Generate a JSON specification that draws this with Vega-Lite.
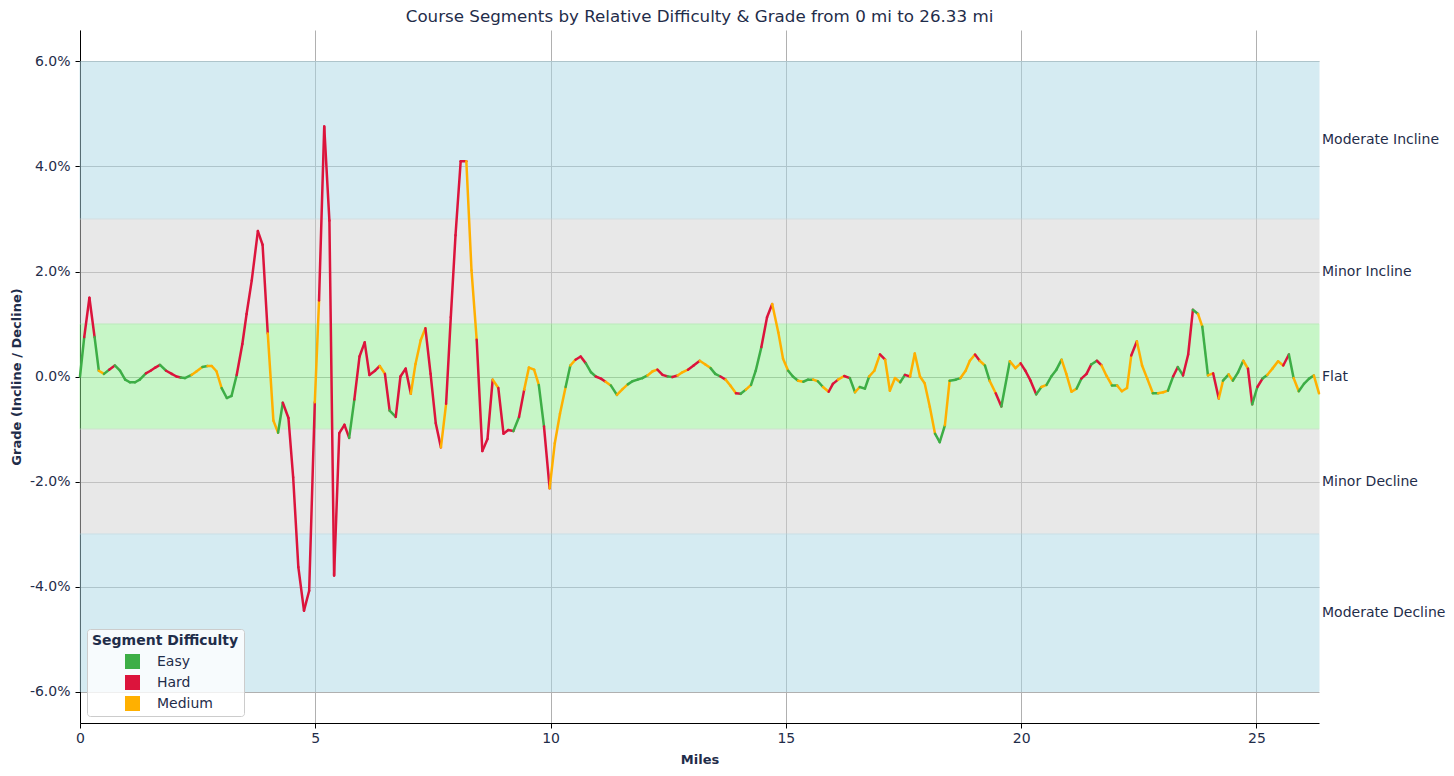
{
  "$schema": "https://vega.github.io/schema/vega-lite/v6.json",
  "width": 1239,
  "height": 693,
  "autosize": {"type": "none"},
  "padding": {"left": 80, "top": 30, "right": 135, "bottom": 53},
  "background": "white",
  "title": {"text": "Course Segments by Relative Difficulty & Grade from 0 mi to 26.33 mi", "fontSize": 16.7, "fontWeight": "normal", "color": "#1f2d4a", "font": "DejaVu Sans", "anchor": "middle", "offset": 4},
  "config": {"view": {"stroke": null}, "font": "DejaVu Sans"},
  "resolve": {"scale": {"stroke": "independent"}},
  "datasets": {
    "segments": [
        {"m":0,"g":0,"m2":0.09,"g2":0.75,"d":"Easy"},
        {"m":0.09,"g":0.75,"m2":0.2,"g2":1.5,"d":"Hard"},
        {"m":0.2,"g":1.5,"m2":0.31,"g2":0.75,"d":"Hard"},
        {"m":0.31,"g":0.75,"m2":0.4,"g2":0.11,"d":"Easy"},
        {"m":0.4,"g":0.11,"m2":0.51,"g2":0.05,"d":"Medium"},
        {"m":0.51,"g":0.05,"m2":0.62,"g2":0.13,"d":"Easy"},
        {"m":0.62,"g":0.13,"m2":0.74,"g2":0.21,"d":"Hard"},
        {"m":0.74,"g":0.21,"m2":0.85,"g2":0.11,"d":"Easy"},
        {"m":0.85,"g":0.11,"m2":0.96,"g2":-0.06,"d":"Easy"},
        {"m":0.96,"g":-0.06,"m2":1.06,"g2":-0.11,"d":"Easy"},
        {"m":1.06,"g":-0.11,"m2":1.17,"g2":-0.11,"d":"Easy"},
        {"m":1.17,"g":-0.11,"m2":1.27,"g2":-0.06,"d":"Easy"},
        {"m":1.27,"g":-0.06,"m2":1.4,"g2":0.06,"d":"Easy"},
        {"m":1.4,"g":0.06,"m2":1.5,"g2":0.11,"d":"Hard"},
        {"m":1.5,"g":0.11,"m2":1.6,"g2":0.17,"d":"Hard"},
        {"m":1.6,"g":0.17,"m2":1.7,"g2":0.22,"d":"Hard"},
        {"m":1.7,"g":0.22,"m2":1.83,"g2":0.11,"d":"Easy"},
        {"m":1.83,"g":0.11,"m2":1.95,"g2":0.05,"d":"Hard"},
        {"m":1.95,"g":0.05,"m2":2.05,"g2":0,"d":"Hard"},
        {"m":2.05,"g":0,"m2":2.14,"g2":-0.02,"d":"Hard"},
        {"m":2.14,"g":-0.02,"m2":2.23,"g2":-0.03,"d":"Easy"},
        {"m":2.23,"g":-0.03,"m2":2.37,"g2":0.03,"d":"Easy"},
        {"m":2.37,"g":0.03,"m2":2.48,"g2":0.1,"d":"Medium"},
        {"m":2.48,"g":0.1,"m2":2.6,"g2":0.18,"d":"Medium"},
        {"m":2.6,"g":0.18,"m2":2.71,"g2":0.2,"d":"Easy"},
        {"m":2.71,"g":0.2,"m2":2.8,"g2":0.2,"d":"Medium"},
        {"m":2.8,"g":0.2,"m2":2.9,"g2":0.1,"d":"Medium"},
        {"m":2.9,"g":0.1,"m2":3.01,"g2":-0.22,"d":"Medium"},
        {"m":3.01,"g":-0.22,"m2":3.12,"g2":-0.41,"d":"Easy"},
        {"m":3.12,"g":-0.41,"m2":3.22,"g2":-0.37,"d":"Easy"},
        {"m":3.22,"g":-0.37,"m2":3.33,"g2":0.03,"d":"Easy"},
        {"m":3.33,"g":0.03,"m2":3.45,"g2":0.62,"d":"Hard"},
        {"m":3.45,"g":0.62,"m2":3.54,"g2":1.19,"d":"Hard"},
        {"m":3.54,"g":1.19,"m2":3.65,"g2":1.83,"d":"Hard"},
        {"m":3.65,"g":1.83,"m2":3.78,"g2":2.77,"d":"Hard"},
        {"m":3.78,"g":2.77,"m2":3.88,"g2":2.51,"d":"Hard"},
        {"m":3.88,"g":2.51,"m2":3.99,"g2":0.82,"d":"Hard"},
        {"m":3.99,"g":0.82,"m2":4.11,"g2":-0.84,"d":"Medium"},
        {"m":4.11,"g":-0.84,"m2":4.21,"g2":-1.07,"d":"Medium"},
        {"m":4.21,"g":-1.07,"m2":4.31,"g2":-0.5,"d":"Easy"},
        {"m":4.31,"g":-0.5,"m2":4.43,"g2":-0.79,"d":"Hard"},
        {"m":4.43,"g":-0.79,"m2":4.53,"g2":-1.92,"d":"Hard"},
        {"m":4.53,"g":-1.92,"m2":4.64,"g2":-3.63,"d":"Hard"},
        {"m":4.64,"g":-3.63,"m2":4.76,"g2":-4.46,"d":"Hard"},
        {"m":4.76,"g":-4.46,"m2":4.87,"g2":-4.08,"d":"Hard"},
        {"m":4.87,"g":-4.08,"m2":4.99,"g2":-0.49,"d":"Hard"},
        {"m":4.99,"g":-0.49,"m2":5.08,"g2":1.45,"d":"Medium"},
        {"m":5.08,"g":1.45,"m2":5.19,"g2":4.76,"d":"Hard"},
        {"m":5.19,"g":4.76,"m2":5.3,"g2":2.97,"d":"Hard"},
        {"m":5.3,"g":2.97,"m2":5.4,"g2":-3.79,"d":"Hard"},
        {"m":5.4,"g":-3.79,"m2":5.51,"g2":-1.08,"d":"Hard"},
        {"m":5.51,"g":-1.08,"m2":5.62,"g2":-0.92,"d":"Hard"},
        {"m":5.62,"g":-0.92,"m2":5.72,"g2":-1.17,"d":"Hard"},
        {"m":5.72,"g":-1.17,"m2":5.83,"g2":-0.44,"d":"Easy"},
        {"m":5.83,"g":-0.44,"m2":5.94,"g2":0.38,"d":"Hard"},
        {"m":5.94,"g":0.38,"m2":6.05,"g2":0.65,"d":"Hard"},
        {"m":6.05,"g":0.65,"m2":6.15,"g2":0.03,"d":"Hard"},
        {"m":6.15,"g":0.03,"m2":6.27,"g2":0.11,"d":"Hard"},
        {"m":6.27,"g":0.11,"m2":6.37,"g2":0.2,"d":"Hard"},
        {"m":6.37,"g":0.2,"m2":6.48,"g2":0.05,"d":"Medium"},
        {"m":6.48,"g":0.05,"m2":6.58,"g2":-0.65,"d":"Hard"},
        {"m":6.58,"g":-0.65,"m2":6.71,"g2":-0.77,"d":"Easy"},
        {"m":6.71,"g":-0.77,"m2":6.81,"g2":0,"d":"Hard"},
        {"m":6.81,"g":0,"m2":6.92,"g2":0.15,"d":"Hard"},
        {"m":6.92,"g":0.15,"m2":7.03,"g2":-0.33,"d":"Hard"},
        {"m":7.03,"g":-0.33,"m2":7.13,"g2":0.24,"d":"Medium"},
        {"m":7.13,"g":0.24,"m2":7.24,"g2":0.69,"d":"Medium"},
        {"m":7.24,"g":0.69,"m2":7.34,"g2":0.92,"d":"Medium"},
        {"m":7.34,"g":0.92,"m2":7.45,"g2":0.05,"d":"Hard"},
        {"m":7.45,"g":0.05,"m2":7.56,"g2":-0.89,"d":"Hard"},
        {"m":7.56,"g":-0.89,"m2":7.67,"g2":-1.35,"d":"Hard"},
        {"m":7.67,"g":-1.35,"m2":7.78,"g2":-0.52,"d":"Medium"},
        {"m":7.78,"g":-0.52,"m2":7.88,"g2":1.13,"d":"Hard"},
        {"m":7.88,"g":1.13,"m2":7.98,"g2":2.69,"d":"Hard"},
        {"m":7.98,"g":2.69,"m2":8.09,"g2":4.1,"d":"Hard"},
        {"m":8.09,"g":4.1,"m2":8.21,"g2":4.1,"d":"Hard"},
        {"m":8.21,"g":4.1,"m2":8.32,"g2":2.02,"d":"Medium"},
        {"m":8.32,"g":2.02,"m2":8.43,"g2":0.7,"d":"Medium"},
        {"m":8.43,"g":0.7,"m2":8.55,"g2":-1.42,"d":"Hard"},
        {"m":8.55,"g":-1.42,"m2":8.66,"g2":-1.19,"d":"Hard"},
        {"m":8.66,"g":-1.19,"m2":8.77,"g2":-0.06,"d":"Hard"},
        {"m":8.77,"g":-0.06,"m2":8.89,"g2":-0.22,"d":"Medium"},
        {"m":8.89,"g":-0.22,"m2":9,"g2":-1.09,"d":"Hard"},
        {"m":9,"g":-1.09,"m2":9.1,"g2":-1.02,"d":"Hard"},
        {"m":9.1,"g":-1.02,"m2":9.21,"g2":-1.04,"d":"Hard"},
        {"m":9.21,"g":-1.04,"m2":9.33,"g2":-0.77,"d":"Easy"},
        {"m":9.33,"g":-0.77,"m2":9.44,"g2":-0.25,"d":"Hard"},
        {"m":9.44,"g":-0.25,"m2":9.54,"g2":0.17,"d":"Medium"},
        {"m":9.54,"g":0.17,"m2":9.65,"g2":0.13,"d":"Medium"},
        {"m":9.65,"g":0.13,"m2":9.75,"g2":-0.16,"d":"Medium"},
        {"m":9.75,"g":-0.16,"m2":9.86,"g2":-0.95,"d":"Easy"},
        {"m":9.86,"g":-0.95,"m2":9.98,"g2":-2.13,"d":"Hard"},
        {"m":9.98,"g":-2.13,"m2":10.09,"g2":-1.27,"d":"Medium"},
        {"m":10.09,"g":-1.27,"m2":10.2,"g2":-0.71,"d":"Medium"},
        {"m":10.2,"g":-0.71,"m2":10.32,"g2":-0.2,"d":"Medium"},
        {"m":10.32,"g":-0.2,"m2":10.42,"g2":0.21,"d":"Easy"},
        {"m":10.42,"g":0.21,"m2":10.53,"g2":0.32,"d":"Medium"},
        {"m":10.53,"g":0.32,"m2":10.64,"g2":0.38,"d":"Hard"},
        {"m":10.64,"g":0.38,"m2":10.75,"g2":0.25,"d":"Hard"},
        {"m":10.75,"g":0.25,"m2":10.86,"g2":0.08,"d":"Easy"},
        {"m":10.86,"g":0.08,"m2":10.96,"g2":0,"d":"Easy"},
        {"m":10.96,"g":0,"m2":11.07,"g2":-0.04,"d":"Hard"},
        {"m":11.07,"g":-0.04,"m2":11.17,"g2":-0.1,"d":"Hard"},
        {"m":11.17,"g":-0.1,"m2":11.28,"g2":-0.17,"d":"Medium"},
        {"m":11.28,"g":-0.17,"m2":11.41,"g2":-0.35,"d":"Easy"},
        {"m":11.41,"g":-0.35,"m2":11.53,"g2":-0.24,"d":"Medium"},
        {"m":11.53,"g":-0.24,"m2":11.64,"g2":-0.15,"d":"Medium"},
        {"m":11.64,"g":-0.15,"m2":11.74,"g2":-0.09,"d":"Easy"},
        {"m":11.74,"g":-0.09,"m2":11.85,"g2":-0.06,"d":"Easy"},
        {"m":11.85,"g":-0.06,"m2":11.95,"g2":-0.03,"d":"Easy"},
        {"m":11.95,"g":-0.03,"m2":12.06,"g2":0.02,"d":"Easy"},
        {"m":12.06,"g":0.02,"m2":12.17,"g2":0.1,"d":"Medium"},
        {"m":12.17,"g":0.1,"m2":12.27,"g2":0.13,"d":"Medium"},
        {"m":12.27,"g":0.13,"m2":12.38,"g2":0.03,"d":"Hard"},
        {"m":12.38,"g":0.03,"m2":12.49,"g2":0,"d":"Hard"},
        {"m":12.49,"g":0,"m2":12.59,"g2":-0.01,"d":"Easy"},
        {"m":12.59,"g":-0.01,"m2":12.7,"g2":0.02,"d":"Hard"},
        {"m":12.7,"g":0.02,"m2":12.8,"g2":0.08,"d":"Medium"},
        {"m":12.8,"g":0.08,"m2":12.92,"g2":0.13,"d":"Medium"},
        {"m":12.92,"g":0.13,"m2":13.04,"g2":0.21,"d":"Hard"},
        {"m":13.04,"g":0.21,"m2":13.17,"g2":0.3,"d":"Hard"},
        {"m":13.17,"g":0.3,"m2":13.29,"g2":0.23,"d":"Medium"},
        {"m":13.29,"g":0.23,"m2":13.4,"g2":0.16,"d":"Medium"},
        {"m":13.4,"g":0.16,"m2":13.5,"g2":0.05,"d":"Easy"},
        {"m":13.5,"g":0.05,"m2":13.61,"g2":0,"d":"Easy"},
        {"m":13.61,"g":0,"m2":13.72,"g2":-0.06,"d":"Hard"},
        {"m":13.72,"g":-0.06,"m2":13.82,"g2":-0.17,"d":"Medium"},
        {"m":13.82,"g":-0.17,"m2":13.94,"g2":-0.32,"d":"Medium"},
        {"m":13.94,"g":-0.32,"m2":14.04,"g2":-0.33,"d":"Hard"},
        {"m":14.04,"g":-0.33,"m2":14.15,"g2":-0.25,"d":"Easy"},
        {"m":14.15,"g":-0.25,"m2":14.26,"g2":-0.16,"d":"Medium"},
        {"m":14.26,"g":-0.16,"m2":14.36,"g2":0.11,"d":"Easy"},
        {"m":14.36,"g":0.11,"m2":14.48,"g2":0.56,"d":"Easy"},
        {"m":14.48,"g":0.56,"m2":14.6,"g2":1.13,"d":"Hard"},
        {"m":14.6,"g":1.13,"m2":14.71,"g2":1.38,"d":"Hard"},
        {"m":14.71,"g":1.38,"m2":14.84,"g2":0.84,"d":"Medium"},
        {"m":14.84,"g":0.84,"m2":14.94,"g2":0.34,"d":"Medium"},
        {"m":14.94,"g":0.34,"m2":15.05,"g2":0.11,"d":"Medium"},
        {"m":15.05,"g":0.11,"m2":15.15,"g2":0,"d":"Easy"},
        {"m":15.15,"g":0,"m2":15.26,"g2":-0.08,"d":"Easy"},
        {"m":15.26,"g":-0.08,"m2":15.37,"g2":-0.1,"d":"Medium"},
        {"m":15.37,"g":-0.1,"m2":15.47,"g2":-0.06,"d":"Easy"},
        {"m":15.47,"g":-0.06,"m2":15.58,"g2":-0.06,"d":"Easy"},
        {"m":15.58,"g":-0.06,"m2":15.68,"g2":-0.09,"d":"Medium"},
        {"m":15.68,"g":-0.09,"m2":15.79,"g2":-0.2,"d":"Easy"},
        {"m":15.79,"g":-0.2,"m2":15.91,"g2":-0.29,"d":"Medium"},
        {"m":15.91,"g":-0.29,"m2":16,"g2":-0.14,"d":"Hard"},
        {"m":16,"g":-0.14,"m2":16.11,"g2":-0.06,"d":"Hard"},
        {"m":16.11,"g":-0.06,"m2":16.24,"g2":0.01,"d":"Medium"},
        {"m":16.24,"g":0.01,"m2":16.36,"g2":-0.03,"d":"Hard"},
        {"m":16.36,"g":-0.03,"m2":16.47,"g2":-0.3,"d":"Easy"},
        {"m":16.47,"g":-0.3,"m2":16.57,"g2":-0.2,"d":"Medium"},
        {"m":16.57,"g":-0.2,"m2":16.68,"g2":-0.23,"d":"Easy"},
        {"m":16.68,"g":-0.23,"m2":16.77,"g2":0,"d":"Easy"},
        {"m":16.77,"g":0,"m2":16.88,"g2":0.11,"d":"Medium"},
        {"m":16.88,"g":0.11,"m2":17,"g2":0.42,"d":"Medium"},
        {"m":17,"g":0.42,"m2":17.11,"g2":0.32,"d":"Hard"},
        {"m":17.11,"g":0.32,"m2":17.21,"g2":-0.27,"d":"Medium"},
        {"m":17.21,"g":-0.27,"m2":17.32,"g2":-0.03,"d":"Medium"},
        {"m":17.32,"g":-0.03,"m2":17.43,"g2":-0.11,"d":"Medium"},
        {"m":17.43,"g":-0.11,"m2":17.53,"g2":0.03,"d":"Easy"},
        {"m":17.53,"g":0.03,"m2":17.64,"g2":0,"d":"Hard"},
        {"m":17.64,"g":0,"m2":17.74,"g2":0.44,"d":"Medium"},
        {"m":17.74,"g":0.44,"m2":17.85,"g2":0,"d":"Medium"},
        {"m":17.85,"g":0,"m2":17.95,"g2":-0.13,"d":"Medium"},
        {"m":17.95,"g":-0.13,"m2":18.06,"g2":-0.58,"d":"Medium"},
        {"m":18.06,"g":-0.58,"m2":18.17,"g2":-1.09,"d":"Medium"},
        {"m":18.17,"g":-1.09,"m2":18.27,"g2":-1.25,"d":"Easy"},
        {"m":18.27,"g":-1.25,"m2":18.38,"g2":-0.93,"d":"Easy"},
        {"m":18.38,"g":-0.93,"m2":18.48,"g2":-0.08,"d":"Medium"},
        {"m":18.48,"g":-0.08,"m2":18.61,"g2":-0.06,"d":"Easy"},
        {"m":18.61,"g":-0.06,"m2":18.71,"g2":-0.03,"d":"Easy"},
        {"m":18.71,"g":-0.03,"m2":18.82,"g2":0.11,"d":"Medium"},
        {"m":18.82,"g":0.11,"m2":18.91,"g2":0.3,"d":"Medium"},
        {"m":18.91,"g":0.3,"m2":19.02,"g2":0.42,"d":"Medium"},
        {"m":19.02,"g":0.42,"m2":19.12,"g2":0.3,"d":"Hard"},
        {"m":19.12,"g":0.3,"m2":19.23,"g2":0.21,"d":"Medium"},
        {"m":19.23,"g":0.21,"m2":19.33,"g2":-0.08,"d":"Easy"},
        {"m":19.33,"g":-0.08,"m2":19.46,"g2":-0.32,"d":"Medium"},
        {"m":19.46,"g":-0.32,"m2":19.58,"g2":-0.57,"d":"Hard"},
        {"m":19.58,"g":-0.57,"m2":19.76,"g2":0.29,"d":"Easy"},
        {"m":19.76,"g":0.29,"m2":19.88,"g2":0.16,"d":"Medium"},
        {"m":19.88,"g":0.16,"m2":19.99,"g2":0.25,"d":"Medium"},
        {"m":19.99,"g":0.25,"m2":20.09,"g2":0.11,"d":"Hard"},
        {"m":20.09,"g":0.11,"m2":20.2,"g2":-0.08,"d":"Hard"},
        {"m":20.2,"g":-0.08,"m2":20.32,"g2":-0.34,"d":"Hard"},
        {"m":20.32,"g":-0.34,"m2":20.43,"g2":-0.2,"d":"Easy"},
        {"m":20.43,"g":-0.2,"m2":20.54,"g2":-0.16,"d":"Medium"},
        {"m":20.54,"g":-0.16,"m2":20.64,"g2":0,"d":"Easy"},
        {"m":20.64,"g":0,"m2":20.75,"g2":0.13,"d":"Easy"},
        {"m":20.75,"g":0.13,"m2":20.86,"g2":0.32,"d":"Easy"},
        {"m":20.86,"g":0.32,"m2":20.96,"g2":0.05,"d":"Medium"},
        {"m":20.96,"g":0.05,"m2":21.07,"g2":-0.29,"d":"Medium"},
        {"m":21.07,"g":-0.29,"m2":21.18,"g2":-0.23,"d":"Medium"},
        {"m":21.18,"g":-0.23,"m2":21.28,"g2":-0.04,"d":"Easy"},
        {"m":21.28,"g":-0.04,"m2":21.39,"g2":0.05,"d":"Hard"},
        {"m":21.39,"g":0.05,"m2":21.49,"g2":0.23,"d":"Hard"},
        {"m":21.49,"g":0.23,"m2":21.61,"g2":0.3,"d":"Easy"},
        {"m":21.61,"g":0.3,"m2":21.71,"g2":0.21,"d":"Hard"},
        {"m":21.71,"g":0.21,"m2":21.81,"g2":0.02,"d":"Medium"},
        {"m":21.81,"g":0.02,"m2":21.93,"g2":-0.17,"d":"Medium"},
        {"m":21.93,"g":-0.17,"m2":22.04,"g2":-0.17,"d":"Easy"},
        {"m":22.04,"g":-0.17,"m2":22.14,"g2":-0.28,"d":"Medium"},
        {"m":22.14,"g":-0.28,"m2":22.25,"g2":-0.22,"d":"Medium"},
        {"m":22.25,"g":-0.22,"m2":22.34,"g2":0.4,"d":"Medium"},
        {"m":22.34,"g":0.4,"m2":22.46,"g2":0.67,"d":"Hard"},
        {"m":22.46,"g":0.67,"m2":22.57,"g2":0.21,"d":"Medium"},
        {"m":22.57,"g":0.21,"m2":22.68,"g2":-0.04,"d":"Medium"},
        {"m":22.68,"g":-0.04,"m2":22.8,"g2":-0.32,"d":"Medium"},
        {"m":22.8,"g":-0.32,"m2":22.91,"g2":-0.32,"d":"Easy"},
        {"m":22.91,"g":-0.32,"m2":23.02,"g2":-0.3,"d":"Medium"},
        {"m":23.02,"g":-0.3,"m2":23.12,"g2":-0.27,"d":"Medium"},
        {"m":23.12,"g":-0.27,"m2":23.23,"g2":0,"d":"Easy"},
        {"m":23.23,"g":0,"m2":23.33,"g2":0.18,"d":"Hard"},
        {"m":23.33,"g":0.18,"m2":23.44,"g2":0.02,"d":"Easy"},
        {"m":23.44,"g":0.02,"m2":23.55,"g2":0.42,"d":"Hard"},
        {"m":23.55,"g":0.42,"m2":23.65,"g2":1.27,"d":"Hard"},
        {"m":23.65,"g":1.27,"m2":23.76,"g2":1.19,"d":"Easy"},
        {"m":23.76,"g":1.19,"m2":23.85,"g2":0.95,"d":"Medium"},
        {"m":23.85,"g":0.95,"m2":23.97,"g2":0.02,"d":"Easy"},
        {"m":23.97,"g":0.02,"m2":24.08,"g2":0.06,"d":"Medium"},
        {"m":24.08,"g":0.06,"m2":24.2,"g2":-0.42,"d":"Hard"},
        {"m":24.2,"g":-0.42,"m2":24.29,"g2":-0.08,"d":"Medium"},
        {"m":24.29,"g":-0.08,"m2":24.41,"g2":0.04,"d":"Easy"},
        {"m":24.41,"g":0.04,"m2":24.5,"g2":-0.08,"d":"Medium"},
        {"m":24.5,"g":-0.08,"m2":24.61,"g2":0.08,"d":"Easy"},
        {"m":24.61,"g":0.08,"m2":24.72,"g2":0.3,"d":"Easy"},
        {"m":24.72,"g":0.3,"m2":24.82,"g2":0.15,"d":"Medium"},
        {"m":24.82,"g":0.15,"m2":24.91,"g2":-0.53,"d":"Hard"},
        {"m":24.91,"g":-0.53,"m2":25.02,"g2":-0.2,"d":"Easy"},
        {"m":25.02,"g":-0.2,"m2":25.13,"g2":-0.04,"d":"Hard"},
        {"m":25.13,"g":-0.04,"m2":25.23,"g2":0.03,"d":"Easy"},
        {"m":25.23,"g":0.03,"m2":25.34,"g2":0.15,"d":"Medium"},
        {"m":25.34,"g":0.15,"m2":25.46,"g2":0.29,"d":"Medium"},
        {"m":25.46,"g":0.29,"m2":25.57,"g2":0.21,"d":"Medium"},
        {"m":25.57,"g":0.21,"m2":25.69,"g2":0.42,"d":"Hard"},
        {"m":25.69,"g":0.42,"m2":25.79,"g2":-0.03,"d":"Easy"},
        {"m":25.79,"g":-0.03,"m2":25.9,"g2":-0.28,"d":"Medium"},
        {"m":25.9,"g":-0.28,"m2":26.01,"g2":-0.14,"d":"Easy"},
        {"m":26.01,"g":-0.14,"m2":26.12,"g2":-0.04,"d":"Easy"},
        {"m":26.12,"g":-0.04,"m2":26.22,"g2":0.02,"d":"Easy"},
        {"m":26.22,"g":0.02,"m2":26.33,"g2":-0.32,"d":"Medium"}
    ]
  },
  "layer": [
    {
      "data": {"values": [
        {"band": "Moderate Incline", "kind": "Moderate", "lo": 3, "hi": 6, "mid": 4.5},
        {"band": "Minor Incline", "kind": "Minor", "lo": 1, "hi": 3, "mid": 2},
        {"band": "Flat", "kind": "Flat", "lo": -1, "hi": 1, "mid": 0},
        {"band": "Minor Decline", "kind": "Minor", "lo": -3, "hi": -1, "mid": -2},
        {"band": "Moderate Decline", "kind": "Moderate", "lo": -6, "hi": -3, "mid": -4.5}
      ]},
      "layer": [
        {
          "mark": {"type": "rect", "opacity": 0.5, "strokeWidth": 1},
          "encoding": {
            "x": {"datum": 0, "type": "quantitative", "title": "Miles", "scale": {"domain": [0, 26.33], "nice": false, "zero": false},
              "axis": {"title": "Miles", "values": [0, 5, 10, 15, 20, 25], "format": "d", "grid": true, "gridColor": "#b0b0b0", "gridWidth": 1, "domainColor": "#000000", "tickColor": "#000000", "tickSize": 5, "labelFontSize": 14, "labelColor": "#1f2d4a", "labelPadding": 3, "labelFlush": false, "titleFontSize": 13, "titleFontWeight": "bold", "titleColor": "#1f2d4a", "titlePadding": 8}},
            "x2": {"datum": 26.33},
            "y": {"field": "lo", "type": "quantitative", "title": "Grade (Incline / Decline)", "scale": {"domain": [-6.6, 6.6], "nice": false, "zero": false},
              "axis": {"title": "Grade (Incline / Decline)", "values": [-6, -4, -2, 0, 2, 4, 6], "labelExpr": "replace(format(datum.value, '.1f'), '\u2212', '-') + '%'", "grid": true, "gridColor": "#b0b0b0", "gridWidth": 1, "domainColor": "#000000", "tickColor": "#000000", "tickSize": 5, "labelFontSize": 14, "labelColor": "#1f2d4a", "labelPadding": 5, "titleFontSize": 13, "titleFontWeight": "bold", "titleColor": "#1f2d4a", "titlePadding": 6}},
            "y2": {"field": "hi"},
            "fill": {"field": "kind", "type": "nominal", "scale": {"domain": ["Moderate", "Minor", "Flat"], "range": ["#ADD8E6", "#D3D3D3", "#90EE90"]}, "legend": null},
            "stroke": {"field": "kind", "type": "nominal", "scale": {"domain": ["Moderate", "Minor", "Flat"], "range": ["#ADD8E6", "#D3D3D3", "#90EE90"]}, "legend": null}
          }
        },
        {
          "mark": {"type": "text", "align": "left", "baseline": "middle", "dx": 3, "fontSize": 14, "color": "#1f2d4a"},
          "encoding": {
            "x": {"datum": 26.33, "type": "quantitative", "title": "Miles"},
            "y": {"field": "mid", "type": "quantitative", "title": "Grade (Incline / Decline)"},
            "text": {"field": "band"}
          }
        }
      ]
    },
    {
      "data": {"name": "segments"},
      "mark": {"type": "rule", "strokeWidth": 2.5, "strokeCap": "round"},
      "encoding": {
        "x": {"field": "m", "type": "quantitative", "title": "Miles"},
        "x2": {"field": "m2"},
        "y": {"field": "g", "type": "quantitative", "title": "Grade (Incline / Decline)"},
        "y2": {"field": "g2"},
        "stroke": {"field": "d", "type": "nominal",
          "scale": {"domain": ["Easy", "Hard", "Medium"], "range": ["#3DAE46", "#DC143C", "#FFB000"]},
          "legend": null}
      }
    },
    {
      "data": {"name": "segments"},
      "mark": {"type": "square", "size": 0, "filled": true},
      "encoding": {
        "x": {"field": "m", "type": "quantitative", "title": "Miles"},
        "y": {"field": "g", "type": "quantitative", "title": "Grade (Incline / Decline)"},
        "color": {"field": "d", "type": "nominal",
          "scale": {"domain": ["Easy", "Hard", "Medium"], "range": ["#3DAE46", "#DC143C", "#FFB000"]},
          "legend": {"title": "Segment Difficulty", "orient": "none", "legendX": 7, "legendY": 599, "titleFontSize": 14, "titleFontWeight": "bold", "titleColor": "#1f2d4a", "labelFontSize": 14, "labelColor": "#1f2d4a", "symbolType": "square", "symbolSize": 225, "symbolStrokeWidth": 0, "symbolOpacity": 1, "symbolOffset": 33, "labelOffset": 17, "rowPadding": 6, "padding": 5, "fillColor": "rgba(255,255,255,0.8)", "strokeColor": "#cccccc", "cornerRadius": 3, "titlePadding": 6}}
      }
    }
  ]
}
